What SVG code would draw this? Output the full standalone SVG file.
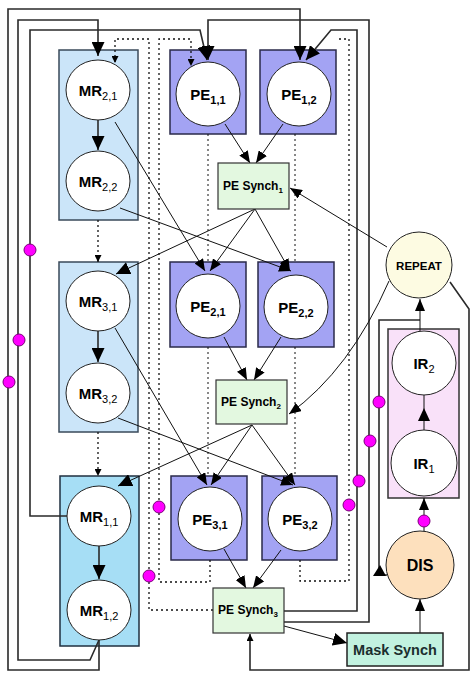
<svg xmlns="http://www.w3.org/2000/svg" width="474" height="678" viewBox="0 0 474 678">
<style>
text{font-family:"Liberation Sans",Arial,sans-serif;font-weight:bold;fill:#000}
.big{font-size:15px}
.sub{font-size:11px}
.subn{font-size:11px;font-weight:normal}
.syn{font-size:12px}
.ssub{font-size:8px}
.mrbox{fill:#cbe5f9;stroke:#3a4a5a;stroke-width:1.5}
.mrbox3{fill:#a6def5;stroke:#1f2f3f;stroke-width:1.5}
.pebox{fill:#a3a3f3;stroke:#2a2a4a;stroke-width:1.5}
.node{fill:#fff;stroke:#222;stroke-width:1}
.synbox{fill:#e3f8e0;stroke:#333;stroke-width:1.2}
.frame{fill:none;stroke:#2a2a2a;stroke-width:1.6}
.thin{fill:none;stroke:#111;stroke-width:1}
.dot{fill:none;stroke:#111;stroke-width:1.3;stroke-dasharray:2,3}
.fdot{fill:none;stroke:#111;stroke-width:1;stroke-dasharray:2,3}
.mg{fill:#ff00ff;stroke:#7a007a;stroke-width:1}
</style>
<defs>
<marker id="ab" markerUnits="userSpaceOnUse" markerWidth="14" markerHeight="13" refX="14" refY="6.5" orient="auto" viewBox="0 0 14 13"><path d="M0,0 L14,6.5 L0,13 z" fill="#000"/></marker>
<marker id="am" markerUnits="userSpaceOnUse" markerWidth="12" markerHeight="10" refX="12" refY="5" orient="auto" viewBox="0 0 12 10"><path d="M0,0 L12,5 L0,10 z" fill="#000"/></marker>
<marker id="as" markerUnits="userSpaceOnUse" markerWidth="7" markerHeight="7" refX="7" refY="3.5" orient="auto" viewBox="0 0 7 7"><path d="M0,0 L7,3.5 L0,7 z" fill="#000"/></marker>
</defs>
<rect width="474" height="678" fill="#fff"/>

<g id="mr-box-2"><rect class="mrbox" x="59" y="50" width="79" height="170"/></g>
<g id="mr-box-3"><rect class="mrbox" x="59" y="262" width="79" height="170"/></g>
<g id="mr-box-1"><rect class="mrbox3" x="60" y="476" width="79" height="170"/></g>
<g id="pe-box-11"><rect class="pebox" x="170" y="50" width="76" height="84"/></g>
<g id="pe-box-12"><rect class="pebox" x="260" y="50" width="76" height="84"/></g>
<g id="pe-box-21"><rect class="pebox" x="170" y="262" width="76" height="85"/></g>
<g id="pe-box-22"><rect class="pebox" x="258" y="262" width="76" height="85"/></g>
<g id="pe-box-31"><rect class="pebox" x="171" y="476" width="76" height="84"/></g>
<g id="pe-box-32"><rect class="pebox" x="262" y="476" width="75" height="84"/></g>
<g id="ir-box"><rect x="388" y="329" width="71" height="169" fill="#f9e1f9" stroke="#333" stroke-width="1.5"/></g>

<g id="connectors">
<!-- frame / feedback lines -->
<path class="frame" d="M99,640 V670 H8 V9 H300 V60" marker-end="url(#ab)"/>
<path class="frame" d="M99,640 L90,660 H18 V20 H98 V56" marker-end="url(#ab)"/>
<path class="frame" d="M67,516 H30 V30 H200 L207,60" marker-end="url(#ab)"/>
<path class="frame" d="M284,611 H357 V30 H331 L306,60" marker-end="url(#ab)"/>
<path class="frame" d="M284,622 H369 V20 H208 V60" marker-end="url(#ab)"/>
<path class="frame" d="M450,282 L469,309 V670 H250 V634" marker-end="url(#as)"/>
<path class="frame" d="M387,575 H379 V320 H420"/>
<path d="M373,576 L386,576 L380,565 z" fill="#000"/>
<!-- dotted lines -->
<path class="dot" d="M213,610 H149 V39 H115 V63" marker-end="url(#as)"/>
<path class="dot" d="M210,560 V582 H159 V39 H191 V66" marker-end="url(#as)"/>
<path class="dot" d="M300,560 V581 H349 V39 H336"/>
<path class="fdot" d="M208,134 V262 M208,347 V476 M295,134 V262 M295,347 V476"/>
<path class="dot" d="M98,220 V262" marker-end="url(#as)"/>
<path class="dot" d="M98,432 V476" marker-end="url(#as)"/>
<!-- MR internal -->
<path class="frame" d="M98,120 V150" marker-end="url(#ab)"/>
<path class="frame" d="M98,331 V362" marker-end="url(#ab)"/>
<path class="frame" d="M99,546 V579" marker-end="url(#ab)"/>
<!-- row 1 to row 2 -->
<path class="thin" d="M115,122 L205,271" marker-end="url(#am)"/>
<path class="thin" d="M120,208 L291,271" marker-end="url(#am)"/>
<path class="thin" d="M255,209 L116,274" marker-end="url(#ab)"/>
<path class="thin" d="M255,209 L210,271" marker-end="url(#am)"/>
<path class="thin" d="M255,209 L290,271" marker-end="url(#am)"/>
<path class="thin" d="M225,124 L250,163" marker-end="url(#am)"/>
<path class="thin" d="M283,124 L256,163" marker-end="url(#am)"/>
<path class="thin" d="M387,247 L290,188" marker-end="url(#am)"/>
<path class="thin" d="M389,281 Q350,370 289,414" marker-end="url(#am)"/>
<!-- row 2 to row 3 -->
<path class="thin" d="M115,328 L207,485" marker-end="url(#am)"/>
<path class="thin" d="M118,418 L293,485" marker-end="url(#am)"/>
<path class="thin" d="M252,425 L118,486" marker-end="url(#ab)"/>
<path class="thin" d="M252,425 L211,485" marker-end="url(#am)"/>
<path class="thin" d="M252,425 L295,485" marker-end="url(#am)"/>
<path class="thin" d="M224,337 L247,380" marker-end="url(#am)"/>
<path class="thin" d="M281,337 L254,380" marker-end="url(#am)"/>
<path class="thin" d="M224,549 L246,588" marker-end="url(#am)"/>
<path class="thin" d="M281,550 L253,588" marker-end="url(#am)"/>
<path class="thin" d="M284,626 L347,643" marker-end="url(#ab)"/>
<!-- right column -->
<path class="thin" d="M420,633 V599" marker-end="url(#am)"/>
<path class="thin" d="M424,531 V498" marker-end="url(#am)"/>
<path class="thin" d="M424,431 V395"/>
<path d="M418,421 L430,421 L424,408 z" fill="#000"/>
<path class="thin" d="M420,331 V299" marker-end="url(#am)"/>
</g>

<g id="MR21"><ellipse class="node" cx="98" cy="90" rx="32" ry="30"/><text x="98" y="96" class="big" text-anchor="middle">MR<tspan class="subn" dy="4">2,1</tspan></text></g>
<g id="MR22"><ellipse class="node" cx="98" cy="181" rx="32" ry="30"/><text x="98" y="187" class="big" text-anchor="middle">MR<tspan class="subn" dy="4">2,2</tspan></text></g>
<g id="MR31"><ellipse class="node" cx="98" cy="301" rx="32" ry="30"/><text x="98" y="307" class="big" text-anchor="middle">MR<tspan class="subn" dy="4">3,1</tspan></text></g>
<g id="MR32"><ellipse class="node" cx="98" cy="393" rx="32" ry="30"/><text x="98" y="399" class="big" text-anchor="middle">MR<tspan class="subn" dy="4">3,2</tspan></text></g>
<g id="MR11"><ellipse class="node" cx="99" cy="516" rx="32" ry="30"/><text x="99" y="522" class="big" text-anchor="middle">MR<tspan class="subn" dy="4">1,1</tspan></text></g>
<g id="MR12"><ellipse class="node" cx="99" cy="610" rx="32" ry="30"/><text x="99" y="616" class="big" text-anchor="middle">MR<tspan class="subn" dy="4">1,2</tspan></text></g>

<g id="PE11"><circle class="node" cx="208" cy="94" r="32"/><text x="208" y="100" class="big" text-anchor="middle">PE<tspan class="sub" dy="4">1,1</tspan></text></g>
<g id="PE12"><circle class="node" cx="299" cy="94" r="32"/><text x="299" y="100" class="big" text-anchor="middle">PE<tspan class="sub" dy="4">1,2</tspan></text></g>
<g id="PE21"><circle class="node" cx="208" cy="306" r="32"/><text x="208" y="312" class="big" text-anchor="middle">PE<tspan class="sub" dy="4">2,1</tspan></text></g>
<g id="PE22"><circle class="node" cx="296" cy="307" r="32"/><text x="296" y="313" class="big" text-anchor="middle">PE<tspan class="sub" dy="4">2,2</tspan></text></g>
<g id="PE31"><circle class="node" cx="210" cy="519" r="32"/><text x="210" y="525" class="big" text-anchor="middle">PE<tspan class="sub" dy="4">3,1</tspan></text></g>
<g id="PE32"><circle class="node" cx="300" cy="519" r="32"/><text x="300" y="525" class="big" text-anchor="middle">PE<tspan class="sub" dy="4">3,2</tspan></text></g>

<g id="PESynch1"><rect class="synbox" x="218" y="163" width="71" height="46"/><text x="253" y="190" class="syn" text-anchor="middle">PE Synch<tspan class="ssub" dy="3">1</tspan></text></g>
<g id="PESynch2"><rect class="synbox" x="216" y="380" width="71" height="44"/><text x="251" y="406" class="syn" text-anchor="middle">PE Synch<tspan class="ssub" dy="3">2</tspan></text></g>
<g id="PESynch3"><rect class="synbox" x="213" y="588" width="71" height="45"/><text x="248" y="614" class="syn" text-anchor="middle">PE Synch<tspan class="ssub" dy="3">3</tspan></text></g>

<g id="REPEAT"><circle cx="419" cy="265" r="33" fill="#fdfbe2" stroke="#222" stroke-width="1"/><text x="419" y="270" font-size="11.5" text-anchor="middle">REPEAT</text></g>
<g id="IR2"><circle class="node" cx="424" cy="363" r="32"/><text x="424" y="369" font-size="15" text-anchor="middle">IR<tspan class="subn" dy="4">2</tspan></text></g>
<g id="IR1"><circle class="node" cx="424" cy="463" r="33"/><text x="424" y="469" font-size="15" text-anchor="middle">IR<tspan class="subn" dy="4">1</tspan></text></g>
<g id="DIS"><circle cx="420" cy="565" r="34" fill="#fde0bd" stroke="#222" stroke-width="1"/><text x="420" y="571" font-size="16" text-anchor="middle">DIS</text></g>
<g id="MaskSynch"><rect x="347" y="633" width="96" height="33" fill="#c2f2e0" stroke="#222" stroke-width="1.5"/><text x="395" y="655" font-size="14.5" text-anchor="middle" style="fill:#1b2e2e">Mask Synch</text></g>

<g id="dots">
<circle class="mg" cx="30" cy="250" r="6"/>
<circle class="mg" cx="19" cy="340" r="6"/>
<circle class="mg" cx="9" cy="382" r="6"/>
<circle class="mg" cx="159" cy="507" r="6"/>
<circle class="mg" cx="149" cy="576" r="6"/>
<circle class="mg" cx="379" cy="402" r="6"/>
<circle class="mg" cx="370" cy="441" r="6"/>
<circle class="mg" cx="359" cy="481" r="6"/>
<circle class="mg" cx="349" cy="505" r="6"/>
<circle class="mg" cx="424" cy="521" r="6"/>
</g>
</svg>
